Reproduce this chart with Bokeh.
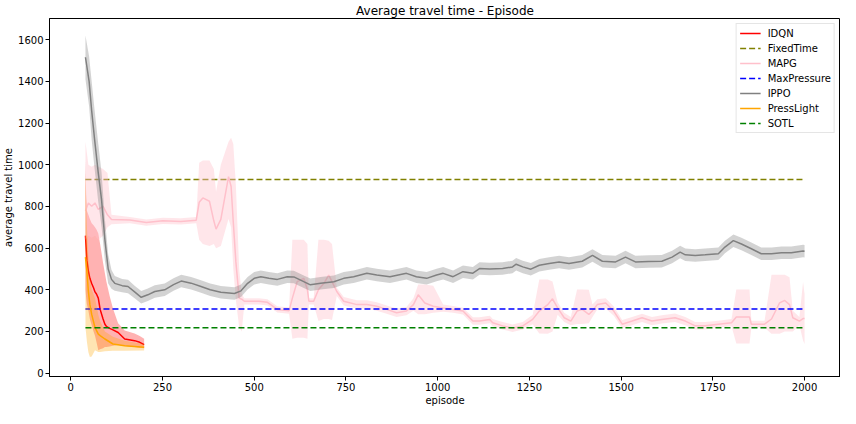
from bokeh.plotting import figure
from bokeh.models import Range1d, FixedTicker
from bokeh.embed import file_html
from bokeh.resources import INLINE

# IDQN: episode, mean, band low, band high
idqn_ep = [40, 42, 44, 48, 52, 57, 62, 66, 70, 75, 80, 88, 93, 97, 106, 115, 129, 147, 174, 188, 200]
idqn_mean = [660, 600, 540, 490, 455, 430, 410, 390, 380, 360, 306, 260, 235, 225, 215, 208, 195, 164, 156, 148, 137]
idqn_lo = [400, 360, 330, 300, 260, 230, 200, 180, 150, 110, 115, 120, 125, 125, 128, 132, 135, 130, 125, 122, 120]
idqn_hi = [1020, 850, 780, 760, 740, 720, 710, 700, 690, 670, 620, 530, 480, 440, 370, 310, 240, 205, 190, 178, 165]

# PressLight
press_ep = [40, 44, 48, 52, 57, 66, 75, 80, 93, 115, 147, 200]
press_mean = [557, 487, 392, 330, 282, 219, 187, 180, 164, 140, 132, 124]
press_lo = [220, 150, 100, 77, 80, 110, 101, 101, 105, 108, 108, 109]
press_hi = [960, 700, 560, 460, 400, 360, 280, 250, 200, 175, 155, 140]

# IPPO
ippo_ep = [40, 50, 57, 65, 75, 84, 93, 102, 111, 120, 140, 156, 174, 192, 210, 229, 256,
           280, 301, 328, 355, 380, 409, 446, 464, 482, 500, 518, 540, 563, 590, 608, 635,
           653, 681, 717, 744, 771, 807, 834, 870, 915, 942, 970, 997, 1015, 1042, 1069,
           1096, 1114, 1142, 1177, 1204, 1214, 1232, 1254, 1277, 1304, 1331, 1358, 1394,
           1422, 1449, 1485, 1512, 1539, 1575, 1611, 1639, 1661, 1675, 1702, 1729, 1765,
           1783, 1806, 1828, 1855, 1882, 1910, 1937, 1964, 1996, 2000]
ippo_mean = [1516, 1400, 1258, 1120, 960, 830, 640, 500, 450, 431, 420, 416, 390, 364, 376,
             392, 400, 425, 442, 432, 416, 400, 388, 382, 395, 431, 455, 463, 455, 450, 463,
             462, 439, 424, 431, 439, 455, 463, 479, 471, 463, 479, 463, 455, 471, 479, 463,
             487, 480, 502, 500, 502, 510, 523, 510, 499, 518, 526, 534, 526, 537, 565, 537,
             534, 557, 534, 536, 537, 557, 581, 568, 565, 568, 573, 605, 636, 620, 597, 573,
             573, 578, 578, 586, 585]
ippo_band = [105, 120, 140, 140, 140, 130, 100, 70, 45, 35, 32, 32, 30, 30, 30, 30, 30,
             30, 30, 30, 30, 30, 30, 30, 30, 30, 30, 30, 30, 30, 30, 30, 30, 30, 30, 30, 30,
             30, 30, 30, 30, 30, 30, 30, 30, 30, 30, 30, 30, 30, 30, 30, 30, 30, 30, 30, 30,
             30, 30, 30, 30, 30, 30, 30, 30, 30, 30, 30, 30, 30, 30, 30, 30, 30, 30, 30, 30,
             30, 30, 30, 30, 30, 30, 30]

# MAPG
mapg_ep = [40, 48, 57, 66, 75, 88, 100, 111, 161, 206, 251, 300, 342, 350, 360, 378, 390,
           396, 409, 430, 437, 443, 450, 459, 466, 473, 513, 536, 563, 595, 604, 617, 635,
           645, 649, 662, 675, 690, 703, 712, 725, 744, 780, 807, 834, 861, 888, 915, 934,
           947, 965, 988, 1015, 1042, 1069, 1096, 1114, 1142, 1150, 1177, 1204, 1232, 1259,
           1277, 1300, 1313, 1327, 1345, 1363, 1380, 1394, 1412, 1422, 1435, 1458, 1480,
           1503, 1530, 1557, 1584, 1611, 1647, 1675, 1702, 1729, 1765, 1801, 1814, 1850,
           1855, 1891, 1910, 1932, 1946, 1959, 1968, 1986, 1996, 2000]
mapg_mean = [778, 817, 801, 817, 786, 801, 760, 738, 735, 723, 731, 728, 734, 820, 841, 825,
             730, 691, 738, 943, 896, 723, 534, 360, 355, 345, 345, 340, 306, 300, 360, 439,
             455, 400, 345, 345, 400, 431, 471, 439, 392, 345, 329, 329, 321, 306, 290, 298,
             329, 376, 337, 321, 313, 306, 298, 250, 250, 258, 242, 227, 216, 227, 258, 298,
             329, 357, 313, 266, 250, 298, 306, 282, 300, 329, 337, 298, 235, 250, 266, 250,
             258, 266, 250, 227, 227, 235, 242, 270, 270, 235, 235, 260, 337, 349, 329, 266,
             250, 262, 262]
mapg_lo = [640, 660, 650, 660, 640, 660, 700, 715, 720, 708, 716, 713, 719, 640, 620, 610,
           620, 600, 610, 740, 700, 500, 350, 220, 200, 330, 330, 325, 291, 285, 165, 170,
           170, 165, 330, 330, 250, 260, 260, 255, 370, 325, 310, 310, 300, 285, 270, 278,
           300, 283, 283, 290, 295, 290, 282, 232, 232, 240, 225, 210, 198, 210, 235, 190,
           189, 200, 280, 245, 230, 236, 236, 240, 270, 305, 310, 275, 215, 230, 245, 230,
           238, 246, 230, 210, 210, 218, 225, 142, 142, 218, 218, 189, 189, 200, 200, 200,
           230, 157, 140]
mapg_hi = [1110, 1000, 990, 1000, 990, 980, 960, 760, 750, 738, 746, 743, 749, 1010, 1020,
           1020, 980, 870, 1000, 1110, 1130, 1100, 900, 500, 380, 360, 360, 355, 321, 315,
           640, 640, 640, 620, 360, 360, 640, 640, 635, 620, 410, 365, 350, 350, 340, 325,
           310, 318, 360, 425, 425, 420, 330, 322, 314, 268, 268, 276, 260, 245, 234, 245,
           280, 449, 449, 440, 340, 290, 270, 402, 402, 400, 330, 355, 360, 320, 255, 270,
           285, 270, 278, 286, 270, 245, 245, 252, 260, 402, 402, 252, 252, 472, 472, 472,
           460, 300, 270, 437, 380]

# constant baselines
baseline_ep = [40, 2000]
fixedtime_value = 929
maxpressure_value = 308
sotl_value = 218

p = figure(width=840, height=408, output_backend="svg", toolbar_location=None,
           title="Average travel time - Episode",
           x_range=Range1d(-58, 2098), y_range=Range1d(-16, 1702),
           min_border_left=40, min_border_right=0, min_border_top=0, min_border_bottom=0)

p.title.align = "center"
p.title.text_font = "DejaVu Sans"
p.title.text_font_size = "12px"
p.title.text_font_style = "normal"
p.title.text_color = "black"
p.title.standoff = 2

p.xaxis.axis_label = "episode"
p.yaxis.axis_label = "average travel time"
p.xaxis.ticker = FixedTicker(ticks=[0, 250, 500, 750, 1000, 1250, 1500, 1750, 2000])
p.yaxis.ticker = FixedTicker(ticks=[0, 200, 400, 600, 800, 1000, 1200, 1400, 1600])
for ax in [p.xaxis[0], p.yaxis[0]]:
    ax.major_label_text_font = "DejaVu Sans"
    ax.major_label_text_font_size = "10px"
    ax.major_label_text_color = "black"
    ax.axis_label_text_font = "DejaVu Sans"
    ax.axis_label_text_font_size = "10px"
    ax.axis_label_text_font_style = "normal"
    ax.axis_label_text_color = "black"
    ax.axis_label_standoff = 1
    ax.major_label_standoff = 2
    ax.major_tick_out = 4
    ax.major_tick_in = 0
    ax.minor_tick_out = 0
    ax.minor_tick_in = 0
    ax.axis_line_color = "black"
    ax.major_tick_line_color = "black"
p.outline_line_color = "black"
p.outline_line_alpha = 1
p.xgrid.grid_line_color = None
p.ygrid.grid_line_color = None

# IDQN
p.line(idqn_ep, idqn_mean, color="red", line_width=1.5, legend_label="IDQN")
p.varea(x=idqn_ep, y1=idqn_lo, y2=idqn_hi, fill_color="red", fill_alpha=0.3)

# FixedTime
p.line(baseline_ep, [fixedtime_value] * 2, color="olive", line_width=1.5,
       line_dash="6 3", legend_label="FixedTime")

# MAPG
p.line(mapg_ep, mapg_mean, color="pink", line_width=1.5, legend_label="MAPG")
p.varea(x=mapg_ep, y1=mapg_lo, y2=mapg_hi, fill_color="pink", fill_alpha=0.4)

# MaxPressure
p.line(baseline_ep, [maxpressure_value] * 2, color="blue", line_width=1.5,
       line_dash="6 3", legend_label="MaxPressure")

# IPPO
ippo_lo = [m - b for m, b in zip(ippo_mean, ippo_band)]
ippo_hi = [m + b for m, b in zip(ippo_mean, ippo_band)]
p.line(ippo_ep, ippo_mean, color="gray", line_width=1.5, legend_label="IPPO")
p.varea(x=ippo_ep, y1=ippo_lo, y2=ippo_hi, fill_color="gray", fill_alpha=0.35)

# PressLight
p.line(press_ep, press_mean, color="orange", line_width=1.5, legend_label="PressLight")
p.varea(x=press_ep, y1=press_lo, y2=press_hi, fill_color="orange", fill_alpha=0.3)

# SOTL
p.line(baseline_ep, [sotl_value] * 2, color="green", line_width=1.5,
       line_dash="6 3", legend_label="SOTL")

p.legend.location = "top_right"
p.legend.margin = 5
p.legend.padding = 3
p.legend.spacing = 3
p.legend.label_height = 12
p.legend.glyph_height = 12
p.legend.glyph_width = 21
p.legend.label_standoff = 7
p.legend.label_text_font = "DejaVu Sans"
p.legend.label_text_font_size = "10px"
p.legend.label_text_color = "black"
p.legend.border_line_color = "#cccccc"
p.legend.background_fill_alpha = 0.8

open("out.html", "w").write(file_html(p, INLINE))
